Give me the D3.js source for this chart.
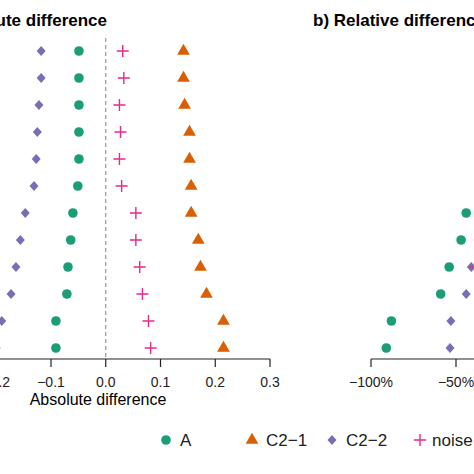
<!DOCTYPE html>
<html><head><meta charset="utf-8">
<script src="https://cdn.jsdelivr.net/npm/d3@7"></script>
<style>body{margin:0;background:#fff}text{font-family:"Liberation Sans",Arial,sans-serif}</style>
</head><body><svg id="c" width="474" height="474"></svg>
<script>
const rows = d3.range(1, 13);
const absA = [-0.049,-0.049,-0.049,-0.049,-0.049,-0.051,-0.06,-0.064,-0.069,-0.071,-0.091,-0.091];
const absC21 = [0.142,0.142,0.144,0.153,0.153,0.156,0.156,0.169,0.173,0.184,0.215,0.215];
const absC22 = [-0.118,-0.118,-0.122,-0.125,-0.127,-0.131,-0.147,-0.156,-0.164,-0.173,-0.19,-0.2];
const absNoise = [0.031,0.033,0.025,0.027,0.025,0.029,0.055,0.055,0.062,0.067,0.078,0.082];
const relA = [-30,-30,-31,-32,-33,-34,-44,-47,-54,-59,-88,-91];
const relC22 = [-20,-20,-21,-22,-23,-24,-35,-37,-41,-44,-53,-53.5];
const relNoise = [10,10,9,9,9,10,30,32,-39,35,38,40];
const relC21 = [60,60,61,62,63,64,70,72,74,76,80,82];
const absTicks = [-0.3,-0.2,-0.1,0,0.1,0.2,0.3];
const relTicks = [-100,-50,0,50,100];

const series = [
  {name:"A", color:"#1b9e77", shape:"circle", abs:absA, rel:relA},
  {name:"C2\u22121", color:"#d95f02", shape:"triangle", abs:absC21, rel:relC21},
  {name:"C2\u22122", color:"#7570b3", shape:"diamond", abs:absC22, rel:relC22},
  {name:"noise", color:"#e7298a", shape:"plus", abs:absNoise, rel:relNoise}
];

function mark(g, s) {
  if (s.shape === "circle") g.append("circle").attr("r", 4.8).attr("fill", s.color);
  else if (s.shape === "triangle") g.append("path").attr("d", d3.symbol(d3.symbolTriangle, 70)).attr("fill", s.color);
  else if (s.shape === "diamond") g.append("path").attr("d", "M0,-5L4.5,0L0,5L-4.5,0Z").attr("fill", s.color);
  else g.append("path").attr("d", "M-6,0H6M0,-6V6").attr("stroke", s.color).attr("stroke-width", 1.4);
}

const svg = d3.select("#c");
const y = d3.scalePoint().domain(rows).range([51, 348]);
const axisY = 359;
const xa = d3.scaleLinear().domain([-0.1, 0.3]).range([51, 270]);
const xr = d3.scaleLinear().domain([-100, -50]).range([371, 456]);

function drawPoints(g, x, key) {
  series.forEach(s => {
    g.selectAll(null).data(s[key]).join("g")
      .attr("transform", (d, i) => `translate(${x(d)},${y(rows[i])})`)
      .each(function() { mark(d3.select(this), s); });
  });
}

function drawAxis(x, ticks, fmt, x0, x1) {
  const g = svg.append("g").attr("transform", `translate(0,${axisY})`);
  g.append("line").attr("x1", x0).attr("x2", x1).attr("stroke", "#222").attr("stroke-width", 1.2);
  const t = g.selectAll(null).data(ticks).join("g").attr("transform", d => `translate(${x(d)},0)`);
  t.append("line").attr("y2", 8).attr("stroke", "#222").attr("stroke-width", 1.2);
  t.append("text").attr("y", 28).attr("text-anchor", "middle").attr("font-size", 14).attr("fill", "#222").text(fmt);
}

// panel a
svg.append("line").attr("x1", xa(0)).attr("x2", xa(0)).attr("y1", 38).attr("y2", axisY)
  .attr("stroke", "#999").attr("stroke-dasharray", "4,3").attr("stroke-width", 1.2);
drawPoints(svg.append("g"), xa, "abs");
drawAxis(xa, absTicks, d => d3.format(".1f")(d).replace("-", "\u2212"), xa(-0.3), xa(0.3));
svg.append("text").attr("x", 98).attr("y", 405).attr("text-anchor", "middle").attr("font-size", 16).text("Absolute difference");
svg.append("text").attr("x", 107).attr("y", 26).attr("text-anchor", "end").attr("font-size", 17).attr("font-weight", "bold").text("a) Absolute difference");

// panel b
drawPoints(svg.append("g"), xr, "rel");
drawAxis(xr, relTicks, d => (d + "%").replace("-", "\u2212"), xr(-100), xr(100));
svg.append("text").attr("x", 313).attr("y", 26).attr("font-size", 17).attr("font-weight", "bold").text("b) Relative difference");

// legend
const lx = [166, 252, 332, 420];
svg.append("g").selectAll(null).data(series).join("g")
  .attr("transform", (d, i) => `translate(${lx[i]},440)`)
  .each(function(s) {
    const g = d3.select(this);
    mark(g, s);
    g.append("text").attr("x", s.shape === "plus" ? 12 : 14).attr("y", 6).attr("font-size", 17).attr("fill", "#222").text(s.name);
  });
</script></body></html>
